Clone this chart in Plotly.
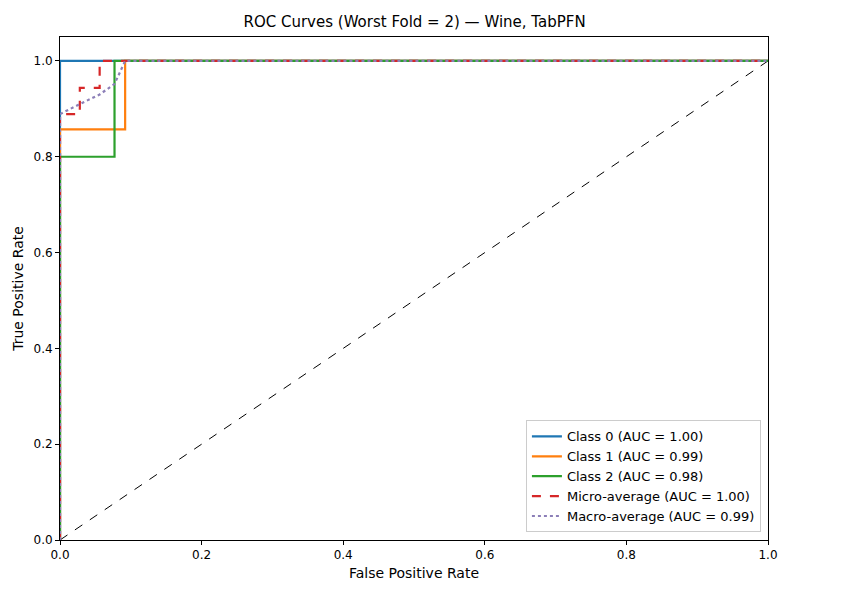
import plotly.graph_objects as go

c0_x = [0, 0, 1]; c0_y = [0, 1, 1]
c1_x = [0, 0, 0.092, 0.092, 1]; c1_y = [0, 0.857, 0.857, 1, 1]
c2_x = [0, 0, 0.077, 0.077, 1]; c2_y = [0, 0.8, 0.8, 1, 1]
mi_x = [0, 0, 0.028, 0.028, 0.056, 0.056, 1]; mi_y = [0, 0.889, 0.889, 0.944, 0.944, 1, 1]
ma_x = [0, 0, 0.028, 0.056, 0.077, 0.092, 1]; ma_y = [0, 0.889, 0.91, 0.93, 0.952, 1, 1]

fig = go.Figure()
fig.add_trace(go.Scatter(x=[0, 1], y=[0, 1], mode="lines", line=dict(color="black", width=1, dash="dash"), showlegend=False))
series = [
    (c0_x, c0_y, "Class 0 (AUC = 1.00)", "#1f77b4", "solid"),
    (c1_x, c1_y, "Class 1 (AUC = 0.99)", "#ff7f0e", "solid"),
    (c2_x, c2_y, "Class 2 (AUC = 0.98)", "#2ca02c", "solid"),
    (mi_x, mi_y, "Micro-average (AUC = 1.00)", "#d62728", "dash"),
    (ma_x, ma_y, "Macro-average (AUC = 0.99)", "#8c7fb8", "dot"),
]
for x, y, n, c, d in series:
    fig.add_trace(go.Scatter(x=x, y=y, mode="lines", name=n, line=dict(color=c, width=2.2, dash=d)))

ax = dict(showgrid=False, zeroline=False, showline=True, linecolor="black", mirror=True, automargin=False,
          ticks="outside", tickcolor="black", ticklen=4, tickfont=dict(size=12, color="black"))
fig.update_layout(
    width=865, height=591, plot_bgcolor="white", paper_bgcolor="white",
    font=dict(family="DejaVu Sans", color="black", size=12),
    margin=dict(l=52, r=105, t=29, b=59),
    title=dict(text="ROC Curves (Worst Fold = 2) — Wine, TabPFN", x=0.47, xanchor="center", y=0.985, yanchor="top", font=dict(size=15)),
    xaxis=dict(ax, range=[0, 1], tickvals=[0, 0.2, 0.4, 0.6, 0.8, 1.0], ticktext=["0.0", "0.2", "0.4", "0.6", "0.8", "1.0"],
               title=dict(text="False Positive Rate", standoff=6)),
    yaxis=dict(ax, range=[0, 1.05], tickvals=[0, 0.2, 0.4, 0.6, 0.8, 1.0], ticktext=["0.0", "0.2", "0.4", "0.6", "0.8", "1.0"],
               title=dict(text="True Positive Rate", standoff=6)),
    legend=dict(x=0.99, y=0.015, xanchor="right", yanchor="bottom", bordercolor="#cccccc", borderwidth=1,
                bgcolor="rgba(255,255,255,0.8)", font=dict(size=13)),
)
fig.write_html("out.html")
